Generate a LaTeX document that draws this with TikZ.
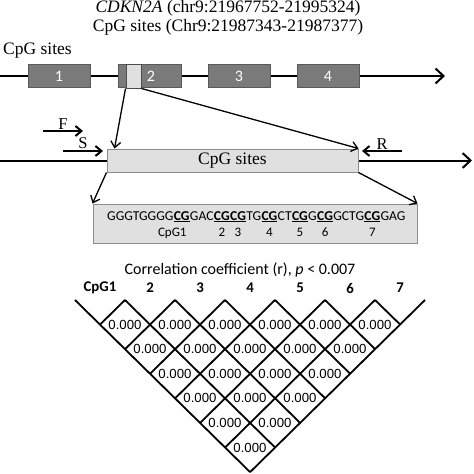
\documentclass[tikz,border=0pt]{standalone}
\usepackage{fontspec}
\setmainfont{Liberation Serif}
\newfontfamily\calfont{Carlito}
\newfontfamily\arialfont{Liberation Sans}
\usetikzlibrary{arrows.meta,positioning}

\begin{document}
\begin{tikzpicture}
[x=1pt, y=-1pt, >={Straight Barb[length=6pt,width=10pt]},
% STYLES
% exon boxes sitting on the gene line
exon/.style={rectangle, draw=black!65, fill=black!52, line width=0.8pt, minimum width=62pt, minimum height=23pt, inner sep=0pt, text=white, font=\calfont\fontsize{16}{16}\selectfont},
% grey boxes that hold a region
region/.style={rectangle, draw=black!45, fill=black!12, line width=1pt, inner sep=0pt},
strand/.style={line width=2pt},
zoomline/.style={->, line width=1.3pt},
primer/.style={->, line width=2pt},
caption/.style={font=\fontsize{17.5}{17.5}\selectfont},
seqpart/.style={inner sep=0pt, anchor=base west, font=\calfont\fontsize{13.6}{13.6}\selectfont},
cg/.style={seqpart, font=\calfont\bfseries\fontsize{13.6}{13.6}\selectfont},
cgnum/.style={inner sep=0pt, anchor=base, font=\calfont\fontsize{13}{13}\selectfont},
cell/.style={inner sep=0pt, font=\arialfont\fontsize{13.2}{13.2}\selectfont},
cghead/.style={font=\calfont\bfseries\fontsize{14.8}{14.8}\selectfont}]

\useasboundingbox (0,0) rectangle (474,474);

% Titles
\node[caption] (title) at (228,8) {\textit{CDKN2A} (chr9:21967752-21995324)};
\node[caption] (subtitle) at (228,27.5) {CpG sites (Chr9:21987343-21987377)};
\node[caption, anchor=west, inner sep=0pt] (cpglab) at (3,51) {CpG sites};

% Gene with exons
\draw [strand, -{Straight Barb[length=8pt,width=15pt]}] (0,76) -- (445,76);
\node [exon] (ex1) at (59,76) {1};
\node [exon, minimum width=63pt] (ex2) at (149.5,76) {\hspace*{3pt}2};
\node [exon] (ex3) at (239,76) {3};
\node [exon] (ex4) at (328,76) {4};
\node [region, draw=black!70, fill=black!12, minimum width=15pt, minimum height=24pt] (site) at (133.5,76) {};

% CpG region on the amplicon
\draw [strand, -{Straight Barb[length=8pt,width=15pt]}] (0,160.5) -- (472,160.5);
\node [region, minimum width=251pt, minimum height=23pt, caption] (cpgbox) at (232.5,160.5) {CpG sites};
\draw [zoomline] (site.south west) -- ([xshift=8pt]cpgbox.north west);
\draw [zoomline] (site.south east) -- (cpgbox.north east);

% Primers
\coordinate (Fs) at (43,131);  \coordinate (Fe) at (83,131);
\coordinate (Ss) at (63,151);  \coordinate (Se) at (103,151);
\coordinate (Rs) at (402,151); \coordinate (Re) at (362,151);
\draw [primer] (Fs) -- node[above, inner sep=1pt, font=\fontsize{16.5}{16.5}\selectfont] {F} (Fe);
\draw [primer] (Ss) -- node[above, inner sep=1pt, font=\fontsize{16.5}{16.5}\selectfont] {S} (Se);
\draw [primer] (Rs) -- node[above, inner sep=1pt, font=\fontsize{16.5}{16.5}\selectfont] {R} (Re);

% Sequence
\node [region, minimum width=324pt, minimum height=39pt] (seqbox) at (255,223.5) {};
\draw [zoomline] (cpgbox.south west) -- (seqbox.north west);
\draw [zoomline] (cpgbox.south east) -- (seqbox.north east);

\node [seqpart] (s1) at (107,220) {GGGTGGGG};
\node [cg] (c1) at (s1.base east) {\underline{CG}};
\node [seqpart] (s2) at (c1.base east) {GAC};
\node [cg] (c2) at (s2.base east) {\underline{CG}};
\node [cg] (c3) at (c2.base east) {\underline{CG}};
\node [seqpart] (s3) at (c3.base east) {TG};
\node [cg] (c4) at (s3.base east) {\underline{CG}};
\node [seqpart] (s4) at (c4.base east) {CT};
\node [cg] (c5) at (s4.base east) {\underline{CG}};
\node [seqpart] (s5) at (c5.base east) {G};
\node [cg] (c6) at (s5.base east) {\underline{CG}};
\node [seqpart] (s6) at (c6.base east) {GCTG};
\node [cg] (c7) at (s6.base east) {\underline{CG}};
\node [seqpart] (s7) at (c7.base east) {GAG};

\node [cgnum, anchor=base east] (p1) at ([xshift=-3pt, yshift=-16.5pt]c1.base east) {CpG1};
\foreach \n in {2,...,7}
  \node [cgnum] (p\n) at ([yshift=-16.5pt]c\n.base) {\n};

% Correlation matrix
\node [font=\calfont\fontsize{16}{16}\selectfont] (corr) at (240,270) {Correlation coefficient (r), \textit{p} < 0.007};

\foreach \j in {1,...,7}
  \node [cghead] (h\j) at ({100+50*(\j-1)},288) {\ifnum\j=1 CpG1\else\j\fi};

\foreach \k in {0,...,6} {
  \draw [line width=1.8pt] ({75+50*\k},300) -- ({250+25*\k},{472-24.6*\k});
  \draw [line width=1.8pt] ({125+50*\k},300) -- ({100+25*\k},{324.6+24.6*\k});
}

\foreach \i in {1,...,6}
  \foreach \j in {\i,...,7} {
    \ifnum\j>\i
      \node [cell] (v\i\j) at ({100+25*(\i+\j-2)},{300+24.6*(\j-\i)}) {0.000};
    \fi
  }

\end{tikzpicture}
\end{document}
